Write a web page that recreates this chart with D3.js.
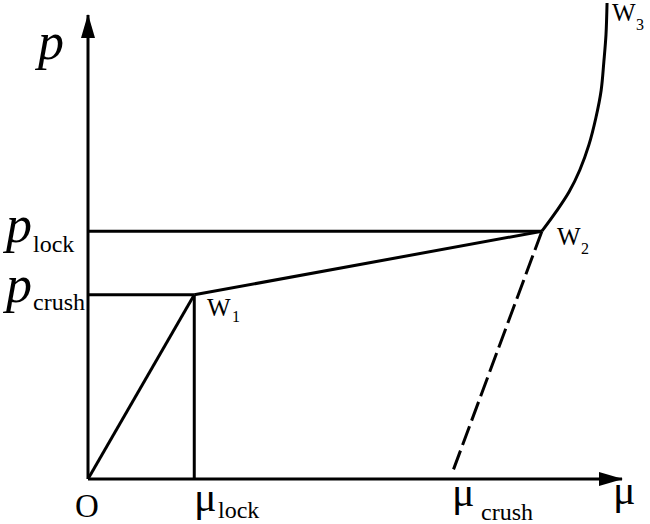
<!DOCTYPE html>
<html lang="en">
<head>
<meta charset="UTF-8">
<title>p-mu curve</title>
<script src="https://d3js.org/d3.v7.min.js"></script>
<style>
svg text { font-family: "Liberation Serif", "Times New Roman", serif !important; }
</style>
</head>
<body style="margin:0">
<div id="container"></div>
<script>
// key points (strain mu, stress p), normalised units
const muLock = 0.199, muCrush = 0.682;
const pCrush = 0.397, pLock = 0.534;
const elastic = [[0, 0], [muLock, pCrush]];
const plateau = [[muLock, pCrush], [0.85, pLock]];
const densify = [[0.85, 0.534], [0.876, 0.575], [0.901, 0.619], [0.921, 0.666], [0.938, 0.72],
                 [0.951, 0.778], [0.961, 0.838], [0.966, 0.899], [0.97, 0.957], [0.972, 1.026]];
const unload = [[0.85, pLock], [muCrush, 0.013]];

// label text (main symbols and subscripts), positions in px
const mainLabels = [
    {x: 38, y: 59, t: "p", size: 52, italic: true},
    {x: 6, y: 242, t: "p", size: 52, italic: true},
    {x: 6, y: 302, t: "p", size: 52, italic: true},
    {x: 207, y: 316, t: "W", size: 25},
    {x: 557, y: 245, t: "W", size: 25},
    {x: 612, y: 21, t: "W", size: 25},
    {x: 75, y: 517, t: "O", size: 33},
    {x: 194, y: 511, t: "μ", size: 42},
    {x: 452, y: 506, t: "μ", size: 42},
    {x: 613, y: 504, t: "μ", size: 42}
];
const subLabels = [
    {x: 33, y: 252, t: "lock", size: 24},
    {x: 33, y: 310, t: "crush", size: 24},
    {x: 232, y: 322, t: "1", size: 16},
    {x: 581, y: 254, t: "2", size: 16},
    {x: 636, y: 30, t: "3", size: 16},
    {x: 218, y: 518, t: "lock", size: 24},
    {x: 481, y: 520, t: "crush", size: 24}
];

const width = 650, height = 524;
const svg = d3.select("#container").append("svg")
    .attr("width", width).attr("height", height);

const x = d3.scaleLinear().domain([0, 1]).range([88, 622]);
const y = d3.scaleLinear().domain([0, 1]).range([479, 15]);

const line = d3.line().x(d => x(d[0])).y(d => y(d[1]));

// arrow heads
svg.append("defs").append("marker")
    .attr("id", "arrow")
    .attr("viewBox", "0 0 24 16")
    .attr("refX", 23).attr("refY", 8)
    .attr("markerWidth", 24).attr("markerHeight", 16)
    .attr("markerUnits", "userSpaceOnUse")
    .attr("orient", "auto")
    .append("path").attr("d", "M0,1 L24,8 L0,15 Z").attr("fill", "#000");

function stroke(sel) {
    return sel.attr("fill", "none").attr("stroke", "#000").attr("stroke-width", 3);
}

// axes
stroke(svg.append("path")).attr("d", line([[0, 0], [0, 1]])).attr("marker-end", "url(#arrow)");
stroke(svg.append("path")).attr("d", line([[0, 0], [1, 0]])).attr("marker-end", "url(#arrow)");

// guide lines
stroke(svg.append("path")).attr("d", line([[0, pCrush], [muLock, pCrush]]));
stroke(svg.append("path")).attr("d", line([[0, pLock], [0.85, pLock]]));
stroke(svg.append("path")).attr("d", line([[muLock, 0], [muLock, pCrush]]));

// curve segments
stroke(svg.append("path")).attr("d", line(elastic));
stroke(svg.append("path")).attr("d", line(plateau));
stroke(svg.append("path"))
    .attr("d", d3.line().x(d => x(d[0])).y(d => y(d[1])).curve(d3.curveCatmullRom.alpha(0.5))(densify));
stroke(svg.append("path")).attr("stroke-dasharray", "20,6").attr("d", line(unload));

// labels
svg.selectAll("text.main").data(mainLabels).join("text")
    .attr("class", "main")
    .attr("x", d => d.x).attr("y", d => d.y)
    .attr("font-family", "Liberation Serif")
    .style("font-family", "'Liberation Serif', serif")
    .attr("font-size", d => d.size)
    .attr("font-style", d => d.italic ? "italic" : null)
    .text(d => d.t);
svg.selectAll("text.sub").data(subLabels).join("text")
    .attr("class", "sub")
    .attr("x", d => d.x).attr("y", d => d.y)
    .attr("font-family", "Liberation Serif")
    .style("font-family", "'Liberation Serif', serif")
    .attr("font-size", d => d.size)
    .text(d => d.t);
</script>
</body>
</html>
